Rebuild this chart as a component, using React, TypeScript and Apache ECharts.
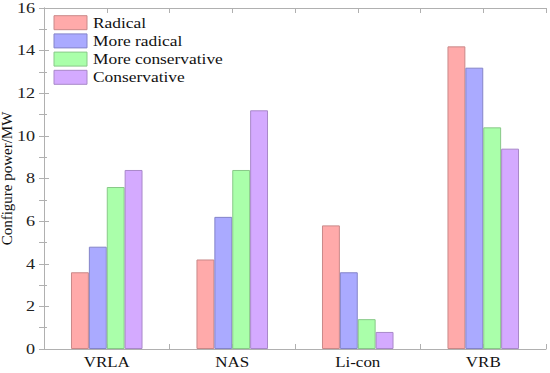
import React, { useEffect, useRef } from "react";
import * as echarts from "echarts";

const categories = ["VRLA", "NAS", "Li-con", "VRB"];
const seriesNames = ["Radical", "More radical", "More conservative", "Conservative"];
const radical = [3.6, 4.2, 5.8, 14.2];
const moreRadical = [4.8, 6.2, 3.6, 13.2];
const moreConservative = [7.6, 8.4, 1.4, 10.4];
const conservative = [8.4, 11.2, 0.8, 9.4];
const yTickLabels = [0, 2, 4, 6, 8, 10, 12, 14, 16];
const colors = ["#FFAAAA", "#AAAAFF", "#AAFFAA", "#D4AAFF"];
const borders = ["#C98888", "#8484C9", "#88C988", "#A888C9"];

export default function App() {
  const ref = useRef<HTMLDivElement>(null);
  useEffect(() => {
    document.body.style.margin = "0";
    const chart = echarts.init(ref.current!, null, { renderer: "svg" });
    const font = "Liberation Serif";
    const data = [radical, moreRadical, moreConservative, conservative];
    const axisColor = "#B0B0B0";
    chart.setOption({
      animation: false,
      backgroundColor: "#fff",
      textStyle: { fontFamily: font },
      legend: { show: false, data: seriesNames },
      grid: { left: 44, right: 4, top: 8, bottom: 24, outerBoundsMode: "none", containLabel: false },
      xAxis: [
        {
          type: "category",
          data: categories,
          axisLine: { show: true, lineStyle: { color: axisColor } },
          axisTick: { show: false },
          axisLabel: { show: false },
        },
        {
          type: "value",
          min: 0,
          max: 8,
          interval: 1,
          position: "top",
          axisLine: { show: true, onZero: false, lineStyle: { color: axisColor } },
          axisTick: { show: true, inside: true, length: 5, lineStyle: { color: axisColor } },
          axisLabel: { show: false },
          splitLine: { show: false },
        },
        {
          type: "value",
          min: 0,
          max: 8,
          interval: 1,
          position: "bottom",
          axisLine: { show: false, onZero: false },
          axisTick: { show: true, inside: true, length: 5, lineStyle: { color: axisColor } },
          axisLabel: { show: false },
          splitLine: { show: false },
        },
      ],
      yAxis: [
        {
          type: "value",
          min: 0,
          max: 16,
          interval: 2,
          name: "Configure power/MW",
          nameLocation: "middle",
          nameGap: 30,
          nameMoveOverlap: false,
          nameTextStyle: { fontFamily: font, fontSize: 15, color: "#111" },
          axisLine: { show: true, lineStyle: { color: axisColor } },
          axisTick: { show: true, inside: true, length: 5, lineStyle: { color: axisColor } },
          minorTick: { show: true, splitNumber: 2, length: 3, lineStyle: { color: axisColor } },
          axisLabel: { show: false },
          splitLine: { show: false },
        },
        {
          type: "value",
          min: 0,
          max: 16,
          interval: 1,
          position: "right",
          axisLine: { show: true, lineStyle: { color: axisColor } },
          axisTick: { show: true, inside: true, length: 5, lineStyle: { color: axisColor } },
          axisLabel: { show: false },
          splitLine: { show: false },
        },
      ],
      series: seriesNames.map((name, i) => ({
        name,
        type: "bar",
        xAxisIndex: 0,
        yAxisIndex: 0,
        data: data[i],
        barGap: "0%",
        barCategoryGap: "43%",
        itemStyle: { color: colors[i], borderColor: borders[i], borderWidth: 1 },
      })),
    });

    // Texts drawn as graphic text (stretched horizontally like the reference)
    const leftX = chart.convertToPixel({ xAxisIndex: 1 }, 0) as number;
    const bottomY = chart.convertToPixel({ yAxisIndex: 0 }, 0) as number;
    const graphics: any[] = [];
    yTickLabels.forEach((v) => {
      const py = chart.convertToPixel({ yAxisIndex: 0 }, v) as number;
      graphics.push({
        type: "text",
        x: leftX - 9,
        y: py,
        scaleX: 1.25,
        style: {
          text: String(v),
          font: "14.5px Liberation Serif",
          fill: "#222",
          align: "right",
          verticalAlign: "middle",
          textAlign: "right",
          textVerticalAlign: "middle",
        },
      });
    });
    categories.forEach((c) => {
      const px = chart.convertToPixel({ xAxisIndex: 0 }, c) as number;
      graphics.push({
        type: "text",
        x: px,
        y: bottomY + 13,
        scaleX: 1.17,
        style: {
          text: c,
          font: "14.5px Liberation Serif",
          fill: "#111",
          align: "center",
          verticalAlign: "middle",
          textAlign: "center",
          textVerticalAlign: "middle",
        },
      });
    });
    seriesNames.forEach((n, i) => {
      const cy = 22.7 + i * 18.2;
      graphics.push({
        type: "rect",
        shape: { x: 54, y: cy - 7, width: 33, height: 14 },
        style: { fill: colors[i], stroke: borders[i], lineWidth: 1 },
      });
      graphics.push({
        type: "text",
        x: 93,
        y: cy,
        scaleX: 1.2,
        style: {
          text: n,
          font: "14.5px Liberation Serif",
          fill: "#111",
          align: "left",
          verticalAlign: "middle",
          textAlign: "left",
          textVerticalAlign: "middle",
        },
      });
    });
    chart.setOption({ graphic: graphics });
    return () => chart.dispose();
  }, []);
  return <div ref={ref} style={{ width: 550, height: 373 }} />;
}
